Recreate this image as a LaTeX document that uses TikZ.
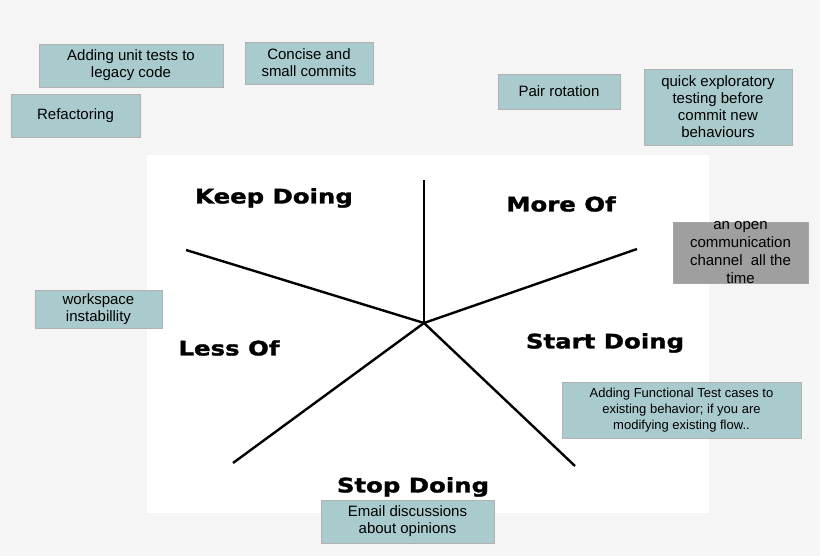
\documentclass[tikz,border=0pt]{standalone}
\usepackage{fontspec}
\setmainfont{Liberation Sans}
\newfontfamily\ttlfont[FakeStretch=1.22,FakeBold=1.5]{DejaVu Sans}
\begin{document}
\begin{tikzpicture}[x=1pt,y=-1pt,
  note/.style={draw=gray!60,fill=teal!20!gray!40!white,line width=0.6pt,align=center,font=\fontsize{15}{17}\selectfont,inner sep=0pt},
  ttl/.style={font=\ttlfont\fontsize{20}{22}\selectfont\bfseries},
  spoke/.style={line width=2.4pt,black}]
\definecolor{bgc}{HTML}{F5F5F5}
\definecolor{notec}{HTML}{A9CBCE}
\tikzset{note/.append style={fill=notec}}
\fill[bgc] (0,0) rectangle (820,556);
\useasboundingbox (0,0) rectangle (820,556);
\fill[white] (147,155) rectangle (709,513);
\coordinate (c) at (424,323);
\coordinate (t) at (424,180);
\coordinate (l) at (186,250);
\coordinate (r) at (637,249);
\coordinate (bl) at (233,463);
\coordinate (br) at (575,466);
\foreach \p in {t,l,r,bl,br} \draw[spoke] (c) -- (\p);
\node[ttl] (kd) at (274,198) {Keep Doing};
\node[ttl] (mo) at (561,204) {More Of};
\node[ttl] (sd) at (605,343) {Start Doing};
\node[ttl] (lo) at (229,348) {Less Of};
\node[ttl] (st) at (413,487) {Stop Doing};
\node[note,minimum width=184,minimum height=43] (a) at (131,65.5) {Adding unit tests to\\legacy code};
\node[note,minimum width=128,minimum height=42] (b) at (309,63) {Concise and\\small commits};
\node[note,minimum width=129,minimum height=43] (rf) at (75.5,115.5) {Refactoring};
\node[note,minimum width=122,minimum height=35] (pr) at (559,91.5) {Pair rotation};
\node[note,minimum width=148,minimum height=76] (q) at (718,107) {quick exploratory\\testing before\\commit new\\behaviours};
\node[draw=gray!70,fill=gray!75,minimum width=135,minimum height=61,inner sep=0pt] (g) at (740.5,252.5) {};
\node[align=center,font=\fontsize{15}{18}\selectfont] (gt) at (740.5,252.5) {an open\\communication\\channel\ \ all the\\time};
\node[note,minimum width=127,minimum height=38] (w) at (98.5,309) {workspace\\instabillity};
\node[note,minimum width=239,minimum height=56,font=\fontsize{13}{16}\selectfont] (f) at (681.5,410) {Adding Functional Test cases to\\existing behavior; if you are\\modifying existing flow..};
\node[note,minimum width=173,minimum height=43] (e) at (407.5,521.5) {Email discussions\\about opinions};
\end{tikzpicture}
\end{document}
